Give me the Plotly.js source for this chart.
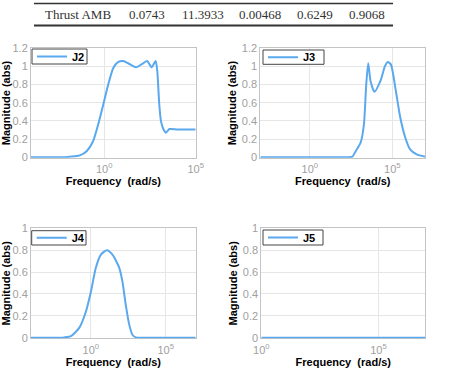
<!DOCTYPE html>
<html>
<head>
<meta charset="utf-8">
<script src="https://cdn.plot.ly/plotly-3.0.1.min.js"></script>
<style>html,body{margin:0;padding:0;background:#fff;}#chart{width:474px;height:370px;}</style>
</head>
<body>
<div id="chart"></div>
<script>
// Table row (top)
const tableLabels = ["Thrust AMB", "0.0743", "11.3933", "0.00468", "0.6249", "0.9068"];

// Frequency read on log scale (exponent of 10) and magnitudes
const j2LogFreq = [-4, -2.5, -2, -1.6, -1.33, -0.96, -0.6, -0.33, -0.05, 0.22, 0.49, 0.77, 1.04, 1.31, 1.73, 2.13, 2.35, 2.59, 2.81, 2.9, 3.01, 3.1, 3.23, 3.38, 3.56, 4, 5];
const j2Mag     = [0, 0, 0.003, 0.01, 0.02, 0.066, 0.18, 0.36, 0.58, 0.80, 0.98, 1.05, 1.06, 1.035, 0.99, 1.035, 1.06, 0.99, 1.06, 0.95, 0.58, 0.40, 0.31, 0.27, 0.31, 0.305, 0.305];

const j3LogFreq = [-3, 2.4, 2.58, 2.78, 3.08, 3.28, 3.42, 3.54, 3.68, 3.92, 4.28, 4.55, 4.72, 4.92, 5.18, 5.48, 5.78, 6.08, 6.48, 7];
const j3Mag     = [0, 0, 0.005, 0.066, 0.16, 0.36, 0.80, 1.035, 0.84, 0.72, 0.84, 1.0, 1.05, 1.02, 0.77, 0.44, 0.22, 0.085, 0.03, 0.005];

const j4LogFreq = [-4, -2, -1.78, -1.33, -0.78, -0.33, 0, 0.33, 0.67, 1.07, 1.44, 1.89, 2.11, 2.33, 2.56, 2.78, 3, 3.3, 7];
const j4Mag     = [0, 0, 0.003, 0.015, 0.09, 0.24, 0.42, 0.64, 0.76, 0.80, 0.76, 0.64, 0.51, 0.30, 0.12, 0.025, 0.003, 0, 0];

const j5LogFreq = [0, 2, 4, 7];
const j5Mag     = [0, 0, 0, 0];

const seriesNames = ["J2", "J3", "J4", "J5"];
const xTickVals = [1, 100000];
const xTickText = ["10<sup>0</sup>", "10<sup>5</sup>"];
const yTicksTop = [0, 0.2, 0.4, 0.6, 0.8, 1, 1.2];
const yTicksBottom = [0, 0.2, 0.4, 0.6, 0.8, 1];

const toFreq = a => a.map(e => Math.pow(10, e));
const lineColor = '#5aa8ee';

const traces = [
  {x: toFreq(j2LogFreq), y: j2Mag, name: seriesNames[0], xaxis: 'x', yaxis: 'y', legend: 'legend'},
  {x: toFreq(j3LogFreq), y: j3Mag, name: seriesNames[1], xaxis: 'x2', yaxis: 'y2', legend: 'legend2'},
  {x: toFreq(j4LogFreq), y: j4Mag, name: seriesNames[2], xaxis: 'x3', yaxis: 'y3', legend: 'legend3'},
  {x: toFreq(j5LogFreq), y: j5Mag, name: seriesNames[3], xaxis: 'x4', yaxis: 'y4', legend: 'legend4'}
].map(t => Object.assign(t, {type: 'scatter', mode: 'lines', showlegend: true,
  line: {color: lineColor, width: 2, shape: 'spline', smoothing: 0.6}}));

const tickFont = {family: 'Liberation Sans, Arial, sans-serif', size: 11, color: '#a0a0a0'};
const titleFont = {family: 'Liberation Sans, Arial, sans-serif', size: 11, color: '#000', weight: 'bold'};

function xax(range, dom, anchor) {
  return {type: 'log', range: range, domain: dom, anchor: anchor,
    tickvals: xTickVals, ticktext: xTickText, ticks: '', tickfont: tickFont, ticklabelstandoff: 1,
    showgrid: true, gridcolor: '#e6e6e6', gridwidth: 1,
    showline: true, mirror: true, linecolor: '#c4c4c4', linewidth: 1, layer: 'below traces',
    zeroline: false, fixedrange: true,
    title: {text: 'Frequency  (rad/s)', font: titleFont, standoff: 3}};
}
function yax(range, dom, anchor, tv) {
  return {range: range, domain: dom, anchor: anchor, tickvals: tv, ticktext: tv.map(String),
    ticks: '', tickfont: tickFont,
    showgrid: true, gridcolor: '#e6e6e6', gridwidth: 1,
    showline: true, mirror: true, linecolor: '#c4c4c4', linewidth: 1, layer: 'below traces',
    zeroline: false, fixedrange: true,
    title: {text: 'Magnitude (abs)', font: titleFont, standoff: 2}};
}
const W = 474, H = 370;
// legend boxes [x0, x1, y0, y1] in pixels
const legBoxes = [[32, 87, 49, 64], [263, 324, 50, 64.3], [31.7, 86, 230.7, 245], [263, 323, 230, 245]];
function leg(b) {
  return {x: b[0] / W, y: 1 - ((b[2] + b[3]) / 2) / H, xanchor: 'left', yanchor: 'middle',
    bgcolor: 'rgba(0,0,0,0)', borderwidth: 0,
    font: {family: 'Liberation Sans, Arial, sans-serif', size: 11, color: '#000', weight: 'bold'}};
}

const colL = [31 / W, 195.7 / W];
const colR = [260.3 / W, 425.3 / W];
const colR4 = [261.3 / W, 425.3 / W];
const rowT = [(H - 157.7) / H, (H - 48.3) / H];
const rowB = [(H - 338.3) / H, (H - 228.3) / H];

const tableX = [78, 147, 203, 260, 315, 367];
const annotations = tableLabels.map((t, i) => ({
  text: t, x: tableX[i] / W, y: 1 - 14.5 / H, xref: 'paper', yref: 'paper',
  xanchor: 'center', yanchor: 'middle', showarrow: false,
  font: {family: 'Liberation Serif, Times New Roman, serif', size: 13, color: '#333'}
}));

const shapes = [
  {type: 'line', xref: 'paper', yref: 'paper', x0: 34 / W, x1: 393 / W, y0: 1 - 3.5 / H, y1: 1 - 3.5 / H, line: {color: '#333', width: 1.5}},
  {type: 'line', xref: 'paper', yref: 'paper', x0: 34 / W, x1: 393 / W, y0: 1 - 25.5 / H, y1: 1 - 25.5 / H, line: {color: '#333', width: 2}}
].concat(legBoxes.map(b => ({type: 'rect', xref: 'paper', yref: 'paper', layer: 'above',
  x0: b[0] / W, x1: b[1] / W, y0: 1 - b[3] / H, y1: 1 - b[2] / H,
  fillcolor: '#fff', line: {color: '#444', width: 1}})));

const layout = {
  width: W, height: H, margin: {l: 0, r: 0, t: 0, b: 0},
  paper_bgcolor: '#fff', plot_bgcolor: '#fff',
  showlegend: true,
  xaxis: xax([-4, 5], colL, 'y'),
  yaxis: yax([-0.006, 1.2], rowT, 'x', yTicksTop),
  xaxis2: xax([-3, 7], colR, 'y2'),
  yaxis2: yax([-0.006, 1.2], rowT, 'x2', yTicksTop),
  xaxis3: xax([-4, 7], colL, 'y3'),
  yaxis3: yax([-0.005, 1], rowB, 'x3', yTicksBottom),
  xaxis4: xax([0, 7], colR4, 'y4'),
  yaxis4: yax([-0.005, 1], rowB, 'x4', yTicksBottom),
  legend: leg(legBoxes[0]),
  legend2: leg(legBoxes[1]),
  legend3: leg(legBoxes[2]),
  legend4: leg(legBoxes[3]),
  annotations: annotations,
  shapes: shapes
};

Plotly.newPlot('chart', traces, layout, {staticPlot: true, displayModeBar: false});
</script>
</body>
</html>
